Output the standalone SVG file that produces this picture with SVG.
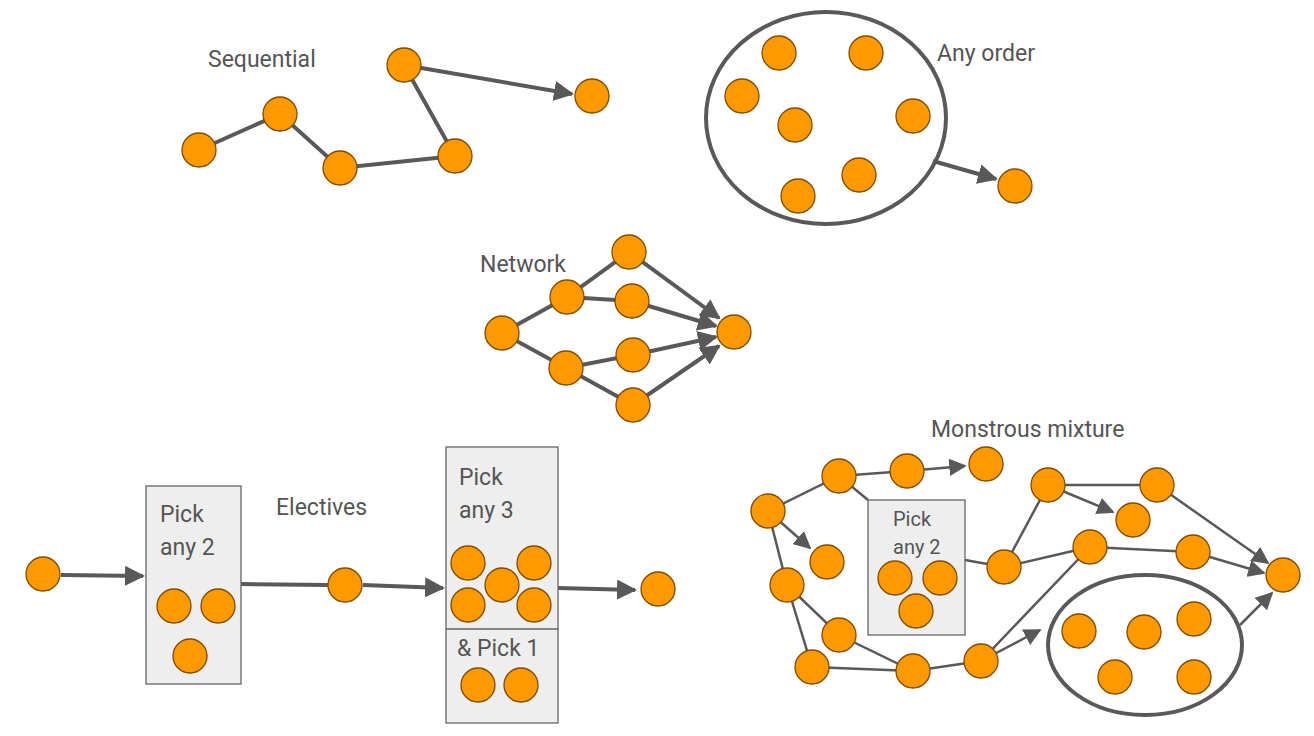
<svg xmlns="http://www.w3.org/2000/svg" width="1314" height="736" viewBox="0 0 1314 736">
<defs>
<style>
.n{fill:#ff9900;stroke:#7f4c00;stroke-width:1.3}
.e{stroke:#595959;stroke-width:4;fill:none}
.t{stroke:#595959;stroke-width:2.5;fill:none}
.box{fill:#eeeeee;stroke:#666;stroke-width:1.3}
.ring{fill:none;stroke:#595959;stroke-width:4}
text{font-family:"Roboto","Liberation Sans",sans-serif;fill:#555;font-size:23px}
</style>
<marker id="a" viewBox="0 0 10 10" refX="9" refY="5" markerWidth="5" markerHeight="5" orient="auto" markerUnits="strokeWidth"><path d="M0,0L10,5L0,10z" fill="#595959"/></marker>
<marker id="b" viewBox="0 0 10 10" refX="9" refY="5" markerWidth="7" markerHeight="7" orient="auto" markerUnits="strokeWidth"><path d="M0,0L10,5L0,10z" fill="#595959"/></marker>
</defs>
<g id="connectors">
<path class="e" d="M199,150L280,114L340,168L455,156L404,65"/>
<line class="e" x1="404" y1="65" x2="572" y2="94" marker-end="url(#a)"/>
<line class="e" x1="933" y1="161" x2="996" y2="179" marker-end="url(#a)"/>
<path class="e" d="M502,333L567,297L629,252M567,297L632,301M502,333L566,368L633,355M566,368L633,405"/>
<line class="e" x1="629" y1="252" x2="719" y2="318" marker-end="url(#a)"/>
<line class="e" x1="632" y1="301" x2="716" y2="326" marker-end="url(#a)"/>
<line class="e" x1="633" y1="355" x2="716" y2="337" marker-end="url(#a)"/>
<line class="e" x1="633" y1="405" x2="719" y2="346" marker-end="url(#a)"/>
<line class="e" x1="61" y1="575" x2="143" y2="576" marker-end="url(#a)"/>
<line class="e" x1="241" y1="584" x2="328" y2="585"/>
<line class="e" x1="363" y1="585" x2="443" y2="588" marker-end="url(#a)"/>
<line class="e" x1="558" y1="588" x2="635" y2="590" marker-end="url(#a)"/>
<path class="t" d="M768,511L839,476L907,471M839,476L868,500M768,511L787,585L839,635L913,671L981,661L1090,547L1004,567L1048,485L1157,485M787,585L812,667L913,671M965,560L1004,567M1090,547L1193,552"/>
<line class="t" x1="907" y1="471" x2="965" y2="466" marker-end="url(#b)"/>
<line class="t" x1="768" y1="511" x2="810" y2="548" marker-end="url(#b)"/>
<line class="t" x1="1048" y1="485" x2="1113" y2="512" marker-end="url(#b)"/>
<line class="t" x1="1157" y1="485" x2="1268" y2="563" marker-end="url(#b)"/>
<line class="t" x1="1193" y1="552" x2="1264" y2="573" marker-end="url(#b)"/>
<line class="t" x1="981" y1="661" x2="1040" y2="630" marker-end="url(#b)"/>
<line class="t" x1="1240" y1="625" x2="1272" y2="593" marker-end="url(#b)"/>
</g>
<g id="sequential">
<text x="208" y="67">Sequential</text>
<circle class="n" cx="199" cy="150" r="17"/><circle class="n" cx="280" cy="114" r="17"/><circle class="n" cx="340" cy="168" r="17"/><circle class="n" cx="455" cy="156" r="17"/><circle class="n" cx="404" cy="65" r="17"/><circle class="n" cx="592" cy="96" r="17"/>
</g>
<g id="anyorder">
<ellipse class="ring" cx="826" cy="118" rx="120" ry="106"/>
<text x="937" y="61">Any order</text>
<circle class="n" cx="779" cy="53" r="17"/><circle class="n" cx="866" cy="53" r="17"/><circle class="n" cx="742" cy="96" r="17"/><circle class="n" cx="913" cy="116" r="17"/><circle class="n" cx="795" cy="125" r="17"/><circle class="n" cx="859" cy="175" r="17"/><circle class="n" cx="798" cy="196" r="17"/><circle class="n" cx="1015" cy="186" r="17"/>
</g>
<g id="network">
<text x="480" y="272">Network</text>
<circle class="n" cx="502" cy="333" r="17"/><circle class="n" cx="567" cy="297" r="17"/><circle class="n" cx="629" cy="252" r="17"/><circle class="n" cx="632" cy="301" r="17"/><circle class="n" cx="566" cy="368" r="17"/><circle class="n" cx="633" cy="355" r="17"/><circle class="n" cx="633" cy="405" r="17"/><circle class="n" cx="734" cy="332" r="17"/>
</g>
<g id="electives">
<text x="276" y="515">Electives</text>
<circle class="n" cx="43" cy="574" r="17"/>
<rect class="box" x="146" y="486" width="95" height="198"/>
<text x="160" y="522">Pick</text><text x="160" y="555">any 2</text>
<circle class="n" cx="174" cy="606" r="17"/><circle class="n" cx="218" cy="606" r="17"/><circle class="n" cx="190" cy="656" r="17"/>
<circle class="n" cx="345" cy="585" r="17"/>
<rect class="box" x="446" y="447" width="112" height="276"/>
<line x1="446" y1="629" x2="558" y2="629" stroke="#666" stroke-width="1.5"/>
<text x="459" y="485">Pick</text><text x="459" y="518">any 3</text>
<circle class="n" cx="468" cy="563" r="17"/><circle class="n" cx="534" cy="563" r="17"/><circle class="n" cx="502" cy="585" r="17"/><circle class="n" cx="468" cy="605" r="17"/><circle class="n" cx="534" cy="605" r="17"/>
<text x="457" y="656">&amp; Pick 1</text>
<circle class="n" cx="478" cy="685" r="17"/><circle class="n" cx="521" cy="685" r="17"/>
<circle class="n" cx="658" cy="589" r="17"/>
</g>
<g id="mixture">
<text x="931" y="437">Monstrous mixture</text>
<rect class="box" x="868" y="500" width="97" height="135"/>
<text x="893" y="526" style="font-size:20px">Pick</text><text x="893" y="554" style="font-size:20px">any 2</text>
<circle class="n" cx="895" cy="578" r="17"/><circle class="n" cx="940" cy="578" r="17"/><circle class="n" cx="916" cy="611" r="17"/>
<ellipse class="ring" cx="1145" cy="645" rx="97" ry="70"/>
<circle class="n" cx="1079" cy="631" r="17"/><circle class="n" cx="1144" cy="632" r="17"/><circle class="n" cx="1194" cy="619" r="17"/><circle class="n" cx="1115" cy="677" r="17"/><circle class="n" cx="1194" cy="677" r="17"/>
<circle class="n" cx="768" cy="511" r="17"/><circle class="n" cx="839" cy="476" r="17"/><circle class="n" cx="907" cy="471" r="17"/><circle class="n" cx="986" cy="464" r="17"/><circle class="n" cx="827" cy="562" r="17"/><circle class="n" cx="787" cy="585" r="17"/><circle class="n" cx="839" cy="635" r="17"/><circle class="n" cx="812" cy="667" r="17"/><circle class="n" cx="913" cy="671" r="17"/><circle class="n" cx="981" cy="661" r="17"/><circle class="n" cx="1090" cy="547" r="17"/><circle class="n" cx="1004" cy="567" r="17"/><circle class="n" cx="1048" cy="485" r="17"/><circle class="n" cx="1157" cy="485" r="17"/><circle class="n" cx="1133" cy="520" r="17"/><circle class="n" cx="1193" cy="552" r="17"/><circle class="n" cx="1283" cy="575" r="17"/>
</g>
</svg>
